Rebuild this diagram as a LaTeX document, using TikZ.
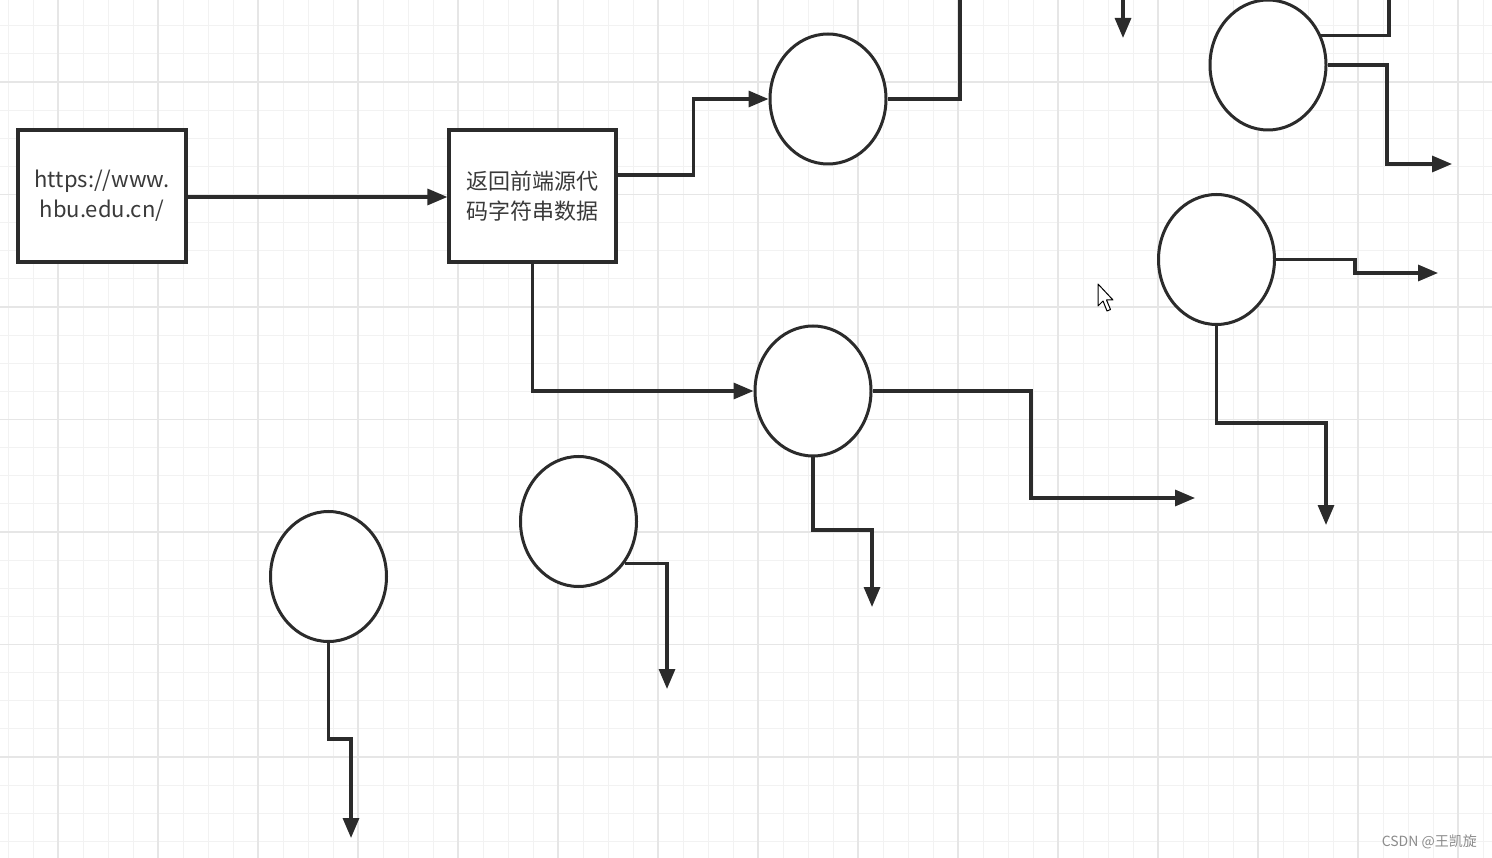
\documentclass[tikz,border=0pt]{standalone}
\usepackage{fontspec}
\newfontfamily\cjk{Noto Sans CJK SC}
\usetikzlibrary{arrows.meta,shapes.geometric,calc}
\definecolor{ink}{HTML}{2B2B2B}
\definecolor{txt}{HTML}{3A3A3A}
\definecolor{gmajor}{HTML}{E6E6E6}
\definecolor{gminor}{HTML}{F2F2F2}
\definecolor{wm}{HTML}{8C8C8C}
\begin{document}
\begin{tikzpicture}[x=1pt,y=-1pt,
  gridminor/.style={draw=gminor,line width=1pt},
  gridmajor/.style={draw=gmajor,line width=1.6pt},
  boxnode/.style={draw=ink,line width=3.2pt,fill=white,minimum width=168pt,minimum height=132pt,inner sep=0pt,font=\cjk\fontsize{22}{30}\selectfont,text=txt,align=center},
  circ/.style={ellipse,draw=ink,line width=3pt,fill=white,minimum width=116pt,minimum height=130pt,inner sep=0pt},
  conn/.style={draw=ink,line width=3.2pt},
  arr/.style={conn,-{Triangle[length=20pt,width=16pt]}},
]
\useasboundingbox (0,0) rectangle (1492,858);
\fill[white] (0,0) rectangle (1492,858);
% grid
\foreach \i in {0,...,59} \draw[gridminor] ({8+25*\i},0) -- ({8+25*\i},858);
\foreach \j in {0,...,31} \draw[gridminor] (0,{-2.375+28.125*\j}) -- (1492,{-2.375+28.125*\j});
\foreach \i in {0,...,14} \draw[gridmajor] ({58+100*\i},0) -- ({58+100*\i},858);
\foreach \j in {0,...,6} \draw[gridmajor] (0,{82+112.5*\j}) -- (1492,{82+112.5*\j});

% nodes
\node[boxnode] (b1) at (102,196) {https://www.\\hbu.edu.cn/};
\node[boxnode,minimum width=167pt] (b2) at (532.5,196) {返回前端源代\\码字符串数据};
\node[circ] (A) at (828,99) {};
\node[circ] (B) at (1268,65) {};
\node[circ] (C) at (1216.5,259.5) {};
\node[circ] (D) at (813,391) {};
\node[circ] (E) at (578.5,521.5) {};
\node[circ] (F) at (328.5,576.5) {};

% free ends
\coordinate (topA) at (960,0);
\coordinate (topB) at (1389,0);
\coordinate (t1) at (1123,0);
\coordinate (t1e) at (1123,38);
\coordinate (eB) at (1452,164);
\coordinate (eC1) at (1438,273);
\coordinate (eC2) at (1326,525);
\coordinate (eD1) at (1195,498);
\coordinate (eD2) at (872,607);
\coordinate (eE) at (667,689);
\coordinate (eF) at (351,838);

% connectors
\draw[arr] (b1.east |- 0,197) -- (b2.west |- 0,197);
\draw[arr] ([yshift=21pt]b2.east) -- ++(76,0) |- (A.west);
\draw[conn] (A.east) -| (topA);
\draw[arr] (t1) -- (t1e);
\draw[conn] (B.29) -| (topB);
\draw[arr] (B.east) -- (1387,65) |- (eB);
\draw[arr] (C.east) -- (1355,259.5) -- (1355,273) -- (eC1);
\draw[arr] (C.south) -- (1216.5,423) -| (eC2);
\draw[arr] (b2.south) |- (D.west);
\draw[arr] (D.east) -- (1031,391) |- (eD1);
\draw[arr] (D.south) -- (813,530) -| (eD2);
\draw[arr] (E.-42) -| (eE);
\draw[arr] (F.south) -- (328.5,739) -| (eF);

% mouse cursor
\draw[black,line width=1pt,fill=white,line join=round] (1098,284) -- (1098,306) -- (1103,301) -- (1107,311) -- (1110.5,309.5) -- (1106.5,300) -- (1113,300) -- cycle;

% watermark
\node[anchor=east,text=wm,font=\cjk\fontsize{14}{16}\selectfont,inner sep=0pt] (wmk) at (1477,842) {CSDN @王凯旋};
\end{tikzpicture}
\end{document}
